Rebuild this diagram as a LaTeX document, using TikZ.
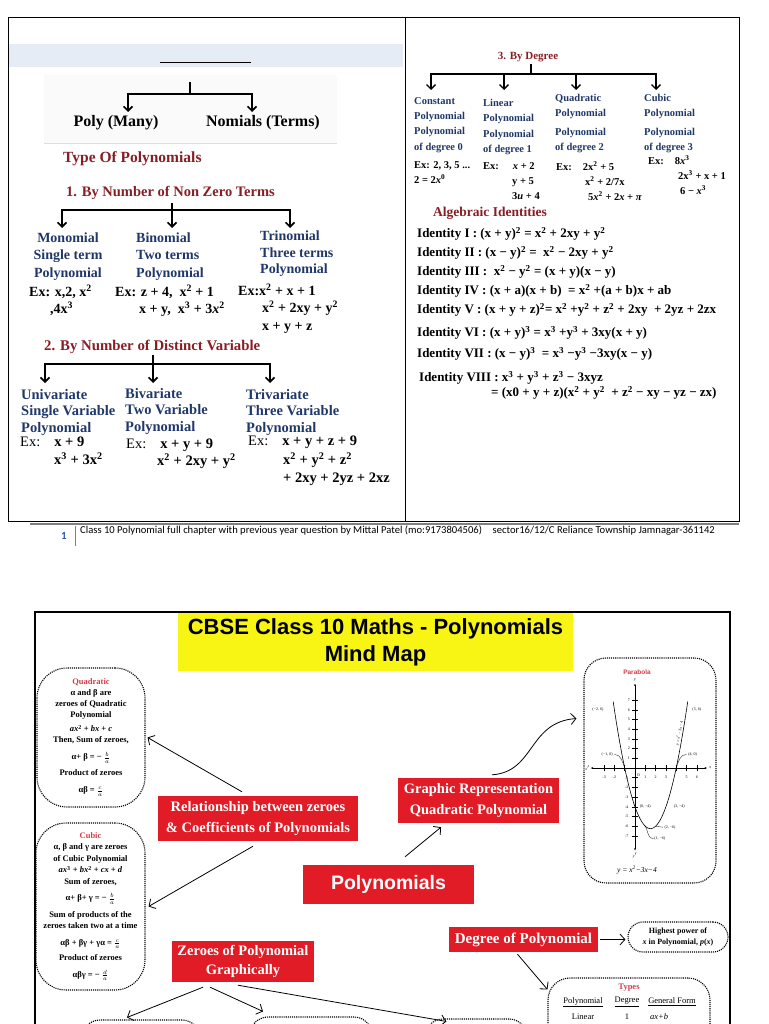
\documentclass[tikz,border=0pt]{standalone}
\usepackage{fontspec}
\setmainfont{Liberation Serif}
\newfontfamily\arialfont{Liberation Sans}
\newfontfamily\calfont{Carlito}
\usetikzlibrary{arrows.meta}

\definecolor{navy}{RGB}{32,55,105}
\definecolor{darkred}{RGB}{135,30,36}
\definecolor{boxred}{RGB}{226,28,38}
\definecolor{titleyellow}{RGB}{248,245,20}
\definecolor{bandblue}{RGB}{230,236,246}
\definecolor{labelred}{RGB}{212,58,74}
\definecolor{pagenum}{RGB}{50,90,170}

\newcommand{\ptwo}{\textsuperscript{2}}
\newcommand{\pthree}{\textsuperscript{3}}
\newcommand{\fs}[2]{\fontsize{#1}{#2}\selectfont}

\begin{document}
\begin{tikzpicture}[x=1pt, y=-1pt,
  every node/.style={inner sep=0pt},
  col/.style={anchor=north west, align=left, text=navy, font=\bfseries\fs{14}{17.5}},
  excol/.style={anchor=north west, align=left, font=\bfseries\fs{14}{17.5}},
  topic/.style={anchor=west, text=darkred, font=\bfseries\fs{14.5}{17}},
  branch/.style={line width=1.6pt},
  down/.style={branch, -{Straight Barb[length=4.5pt,width=9pt]}},
  smallcol/.style={anchor=north west, align=left, text=navy, font=\bfseries\fs{10.5}{15.3}},
  smallex/.style={anchor=north west, align=left, font=\bfseries\fs{10.5}{15}},
  ident/.style={anchor=west, font=\bfseries\fs{13}{15}},
  redbox/.style={fill=boxred, text=white, align=center, font=\bfseries\fs{14.5}{21}},
  dotbox/.style={draw, line width=1.1pt, densely dotted, align=center, font=\bfseries\fs{8.5}{11}},
  link/.style={line width=0.8pt, -{Straight Barb[length=5pt,width=11pt]}}
]
  \path[use as bounding box, clip] (0,0) rectangle (768,1024);

  % page frame and header strip
  \fill[bandblue] (8,44) rectangle (403,67);
  \fill[gray!4] (44,75) rectangle (337,143);
  \draw[line width=0.9pt] (8,17) rectangle (739,521);
  \draw[line width=0.9pt] (405,17) -- (405,521);
  \draw[line width=1pt] (160,63) -- (251,63);
  \draw[gray!25, line width=0.6pt] (44,143) -- (337,143);

  % Poly + Nomials
  \node[font=\bfseries\fs{16}{19}] (poly) at (116,123) {Poly (Many)};
  \node[font=\bfseries\fs{16}{19}] (nomials) at (263,123) {Nomials (Terms)};
  \coordinate (root1) at (190,82);
  \coordinate (fork1) at (190,94);
  \coordinate (polytip) at (128,112);
  \coordinate (nomtip) at (252,112);
  \draw[branch] (root1) -- (fork1);
  \draw[down] (fork1) -| (polytip);
  \draw[down] (fork1) -| (nomtip);

  % 1. by number of non zero terms
  \node[topic, font=\bfseries\fs{15.5}{18}] (types) at (63,159) {Type Of Polynomials};
  \node[topic] (bynz) at (66,193) {1. By Number of Non Zero Terms};
  \coordinate (root2) at (172,203);
  \coordinate (fork2) at (172,210);
  \coordinate (monotip) at (62,228);
  \coordinate (bintip) at (172,228);
  \coordinate (tritip) at (290,228);
  \draw[branch] (root2) -- (fork2);
  \draw[down] (fork2) -| (monotip);
  \draw[down] (fork2) -- (bintip);
  \draw[down] (fork2) -| (tritip);

  \node[col, anchor=north, align=center] (mono) at (68,232.5) {Monomial\\Single term\\Polynomial};
  \node[excol] (monoex) at (29,284.5) {Ex: x,2, x\ptwo\\\hspace{21pt},4x\pthree};
  \node[col] (bin) at (136,232.5) {Binomial\\Two terms\\Polynomial};
  \node[excol] (binex) at (115,284.5) {Ex: z + 4,\ \ x\ptwo{} + 1\\\hspace{24pt}x + y,\ \ x\pthree{} + 3\textit{x}\ptwo};
  \node[col, font=\bfseries\fs{14}{16.5}] (tri) at (260,231) {Trinomial\\Three terms\\Polynomial};
  \node[excol] (triex) at (238,283.5) {Ex:x\ptwo{} + x + 1\\\hspace{24pt}x\ptwo{} + 2xy + y\ptwo\\\hspace{24pt}x + y + z};

  % 2. by number of distinct variable
  \node[topic, font=\bfseries\fs{14.8}{17}] (bydv) at (44,347) {2. By Number of Distinct Variable};
  \coordinate (root3) at (153,355);
  \coordinate (fork3) at (153,364);
  \coordinate (unitip) at (45,383);
  \coordinate (bitip) at (153,383);
  \coordinate (trivtip) at (270,383);
  \draw[branch] (root3) -- (fork3);
  \draw[down] (fork3) -| (unitip);
  \draw[down] (fork3) -- (bitip);
  \draw[down] (fork3) -| (trivtip);

  \node[col, font=\bfseries\fs{14.5}{16.5}] (uni) at (21,389) {Univariate\\Single Variable\\Polynomial};
  \node[excol, font=\bfseries\fs{14.5}{18}] (uniex) at (20,437) {{\mdseries Ex:}\hspace{14pt}x + 9\\\hspace{34pt}x\pthree{} + 3x\ptwo};
  \node[col, font=\bfseries\fs{14.5}{16.5}] (bi) at (125,388) {Bivariate\\Two Variable\\Polynomial};
  \node[excol, font=\bfseries\fs{14.5}{17}] (biex) at (126,439) {{\mdseries Ex:}\hspace{14pt}x + y + 9\\\hspace{31pt}x\ptwo{} + 2xy + y\ptwo};
  \node[col, font=\bfseries\fs{14.5}{16.5}] (triv) at (246,389) {Trivariate\\Three Variable\\Polynomial};
  \node[excol, font=\bfseries\fs{14.5}{18.5}] (trivex) at (248,436) {{\mdseries Ex:}\hspace{14pt}x + y + z + 9\\\hspace{35pt}x\ptwo{} + y\ptwo{} + z\ptwo\\\hspace{35pt}+ 2xy + 2yz + 2xz};

  % 3. by degree
  \node[text=darkred, font=\bfseries\fs{11}{13}] (bydeg) at (528,57) {3. By Degree};
  \coordinate (root4) at (531,64);
  \coordinate (fork4) at (531,74);
  \coordinate (consttip) at (431,90);
  \coordinate (lintip) at (504,90);
  \coordinate (quadtip) at (576,90);
  \coordinate (cubtip) at (656,90);
  \draw[branch, line width=1.3pt] (root4) -- (fork4);
  \draw[down, line width=1.3pt] (fork4) -| (consttip);
  \draw[down, line width=1.3pt] (fork4) -| (lintip);
  \draw[down, line width=1.3pt] (fork4) -| (quadtip);
  \draw[down, line width=1.3pt] (fork4) -| (cubtip);

  \node[smallcol] (const) at (414,97) {Constant\\Polynomial\\Polynomial\\of degree 0};
  \node[smallex] (constex) at (414,161) {Ex: 2, 3, 5 ...\\2 = 2\textit{x}\textsuperscript{0}};
  \node[smallcol] (lin) at (483,99) {Linear\\Polynomial\\Polynomial\\of degree 1};
  \node[smallex] (linex) at (483,162) {Ex:\hspace{14pt}\textit{x} + 2\\\hspace{29pt}y + 5\\\hspace{29pt}3\textit{u} + 4};
  \node[smallcol] (quad) at (555,94) {Quadratic\\Polynomial\\[3pt]Polynomial\\of degree 2};
  \node[smallex] (quadex) at (556,161) {Ex:\hspace{11pt}2x\ptwo{} + 5\\\hspace{29pt}x\ptwo{} + 2/7x\\\hspace{32pt}5\textit{x}\ptwo{} + 2\textit{x} + \textit{π}};
  \node[smallcol] (cub) at (644,94) {Cubic\\Polynomial\\[3pt]Polynomial\\of degree 3};
  \node[smallex] (cubex) at (648,155) {Ex:\hspace{11pt}8\textit{x}\pthree\\\hspace{30pt}2x\pthree{} + x + 1\\\hspace{32pt}6 − \textit{x}\pthree};

  % algebraic identities
  \node[topic, font=\bfseries\fs{13.5}{16}] (algid) at (433,213) {Algebraic Identities};
  \node[ident] (id1) at (417,234) {Identity I : (x + y)\ptwo{} = x\ptwo{} + 2xy + y\ptwo};
  \node[ident] (id2) at (417,253) {Identity II : (x − y)\ptwo{} = \ x\ptwo{} − 2xy + y\ptwo};
  \node[ident] (id3) at (417,272) {Identity III : \ x\ptwo{} − y\ptwo{} = (x + y)(x − y)};
  \node[ident] (id4) at (417,291) {Identity IV : (x + a)(x + b) \ = x\ptwo{} +(a + b)x + ab};
  \node[ident] (id5) at (417,310) {Identity V : (x + y + z)\ptwo{}= x\ptwo{} +y\ptwo{} + z\ptwo{} + 2xy \ + 2yz + 2zx};
  \node[ident] (id6) at (417,333) {Identity VI : (x + y)\pthree{} = x\pthree{} +y\pthree{} + 3xy(x + y)};
  \node[ident] (id7) at (417,354) {Identity VII : (x − y)\pthree{} \ = x\pthree{} −y\pthree{} −3xy(x − y)};
  \node[ident] (id8) at (419,378) {Identity VIII : x\pthree{} + y\pthree{} + z\pthree{} − 3xyz};
  \node[ident] (id8b) at (491,393) {= (x0 + y + z)(x\ptwo{} + y\ptwo{} \ + z\ptwo{} − xy − yz − zx)};

  % footer
  \draw[gray, line width=1.5pt] (30,524) -- (739,524);
  \node[text=pagenum, font=\calfont\bfseries\fs{11}{12}] (pg) at (64,536) {1};
  \draw[gray, line width=0.6pt] (75,526) -- (75,546);
  \node[anchor=west, font=\calfont\fs{10.6}{12}] (foot) at (80,531) {Class 10 Polynomial full chapter with previous year question by Mittal Patel (mo:9173804506)\quad sector16/12/C Reliance Township Jamnagar-361142};

  % mind map
  \draw[line width=1.1pt] (35,612) rectangle (730,1040);
  \node[fill=titleyellow, minimum width=395pt, minimum height=58pt, align=center, font=\arialfont\bfseries\fs{22}{27}] (title) at (375.5,642) {CBSE Class 10 Maths - Polynomials\\Mind Map};

  \node[redbox, minimum width=200pt, minimum height=45pt] (rel) at (258,818.5) {Relationship between zeroes\\\& Coefficients of Polynomials};
  \node[redbox, minimum width=161pt, minimum height=45pt] (graph) at (478.5,800.5) {Graphic Representation\\Quadratic Polynomial};
  \node[redbox, minimum width=171pt, minimum height=39pt, font=\arialfont\bfseries\fs{19.5}{22}] (polymain) at (388.5,884.5) {Polynomials};
  \node[redbox, minimum width=142pt, minimum height=41pt, font=\bfseries\fs{14.5}{18.5}] (zer) at (243,961.5) {Zeroes of Polynomial\\Graphically};
  \node[redbox, minimum width=149pt, minimum height=25pt, font=\bfseries\fs{15}{18}] (deg) at (523.5,939.5) {Degree of Polynomial};

  \node[dotbox, rounded corners=30pt, minimum width=108pt, minimum height=139pt] (quadbox) at (91,737.5) {{\color{labelred}Quadratic}\\α and β are\\zeroes of Quadratic\\Polynomial\\[3pt]\textit{ax}\ptwo{} + \textit{bx} + \textit{c}\\Then, Sum of zeroes,\\[6pt]α+ β = − $\frac{b}{a}$\\[5pt]Product of zeroes\\[6pt]αβ = $\frac{c}{a}$};
  \node[dotbox, rounded corners=30pt, minimum width=109pt, minimum height=167pt, font=\bfseries\fs{8.5}{11.5}] (cubbox) at (90.5,906.5) {{\color{labelred}Cubic}\\α, β and γ are zeroes\\of Cubic Polynomial\\\textit{ax}\pthree{} + \textit{bx}\ptwo{} + \textit{cx} + \textit{d}\\Sum of zeroes,\\[5pt]α+ β+ γ = − $\frac{b}{a}$\\[5pt]Sum of products of the\\zeroes taken two at a time\\[5pt]αβ + βγ + γα = $\frac{c}{a}$\\[4pt]Product of zeroes\\[5pt]αβγ = − $\frac{d}{a}$};
  \node[dotbox, rounded corners=22pt, minimum width=132pt, minimum height=225pt] (parab) at (650,770.5) {};
  \node[dotbox, rounded corners=15pt, minimum width=100pt, minimum height=30pt, font=\bfseries\fs{8}{11.5}] (high) at (678,937) {Highest power of\\\textit{x} in Polynomial, \textit{p}(\textit{x})};
  \node[dotbox, rounded corners=22pt, minimum width=162pt, minimum height=70pt] (typesbox) at (629,1013) {};
  \node[dotbox, rounded corners=18pt, minimum width=118pt, minimum height=50pt] (g1) at (141,1045) {};
  \node[dotbox, rounded corners=18pt, minimum width=122pt, minimum height=50pt] (g2) at (311,1042) {};
  \node[dotbox, rounded corners=18pt, minimum width=102pt, minimum height=50pt] (g3) at (476,1044) {};

  % types table
  \node[text=labelred, font=\bfseries\fs{8.5}{10}] (typestitle) at (629,988) {Types};
  \node[font=\fs{8.5}{10}] (thpoly) at (583,1002) {\underline{Polynomial}};
  \node[font=\fs{8.5}{10}] (thdeg) at (627,1002) {\underline{Degree}};
  \node[font=\fs{8.5}{10}] (thform) at (672,1002) {\underline{General Form}};
  \node[font=\fs{8.5}{10}] (rlin) at (583,1017) {Linear};
  \node[font=\fs{8.5}{10}] (rone) at (627,1017) {1};
  \node[font=\fs{8.5}{10}] (rax) at (659,1017) {\textit{ax+b}};

  % parabola
  \node[text=labelred, font=\arialfont\bfseries\fs{6.5}{8}] (parabtitle) at (637,672) {Parabola};
  \node[font=\itshape\fs{7.5}{9}] (parabeq) at (637,870) {y = x\textsuperscript{2}−3x−4};
  \begin{scope}[shift={(635,768)}, x=10.3pt, y=9.7pt, font=\fs{4}{5}]
    \draw[line width=0.5pt, {Stealth[length=2.5pt]}-{Stealth[length=2.5pt]}] (-4.3,0) -- (7,0);
    \draw[line width=0.5pt, {Stealth[length=2.5pt]}-{Stealth[length=2.5pt]}] (0,-8.5) -- (0,8.7);
    \foreach \t in {-3,...,6} \draw[line width=0.5pt] (\t,0.3) -- (\t,-0.3);
    \foreach \t in {-7,...,7} \draw[line width=0.5pt] (-0.3,\t) -- (0.3,\t);
    \foreach \t in {-3,-2,1,2,3,5,6} \node at (\t,-0.9) {\t};
    \foreach \t in {1,...,7} \node at (-0.6,\t) {\t};
    \foreach \t in {-7,...,-1} \node at (-0.8,\t) {\t};
    \node at (0.35,-0.7) {O};
    \node at (-4.6,0) {\textit{x}$'$};
    \node at (7.3,0) {\textit{x}};
    \node at (0,9.1) {\textit{y}};
    \node at (0,-9.0) {\textit{y}$'$};
    \draw[line width=0.6pt, domain=-2.12:5.12, samples=60] plot (\x,{\x*\x-3*\x-4});
    \node at (-3.6,6.0) {(−2, 6)};
    \node at (6.0,6.0) {(5, 6)};
    \node at (-2.7,1.4) {(−1, 0)};
    \node at (5.6,1.4) {(4, 0)};
    \node at (1.0,-4.0) {(0, −4)};
    \node at (4.3,-4.0) {(3, −4)};
    \node at (3.4,-6.1) {(2, −6)};
    \node at (2.4,-7.3) {(1, −6)};
    \draw[line width=0.3pt] (-2.0,1.4) to[out=0,in=110] (-1,0);
    \draw[line width=0.3pt] (5.0,1.4) to[out=180,in=70] (4,0);
    \draw[line width=0.3pt] (2.7,-6.1) to[out=180,in=0] (2,-6);
    \draw[line width=0.3pt] (1.8,-7.3) to[out=180,in=-60] (1,-6);
    \node[rotate=79] at (4.3,3.6) {\textit{y} = \textit{x}\textsuperscript{2} − 3\textit{x} − 4};
  \end{scope}

  % connectors
  \draw[link] ([xshift=-16pt,yshift=4pt]rel.north) -- ([xshift=2pt]quadbox.east);
  \draw[link] ([xshift=-5pt,yshift=-5pt]rel.south) -- ([xshift=3pt]cubbox.east);
  \draw[link] ([xshift=16.5pt,yshift=8pt]polymain.north) -- ([xshift=-37.5pt,yshift=-4pt]graph.south);
  \draw[link] ([xshift=13.5pt,yshift=3pt]graph.north) .. controls (535,772) and (528,722) .. ([xshift=-7pt]parab.142);
  \draw[link] ([xshift=-40pt,yshift=-5pt]zer.south) -- ([xshift=-14pt,yshift=2pt]g1.north);
  \draw[link] ([xshift=-33pt,yshift=-5pt]zer.south) -- ([xshift=-48pt,yshift=5pt]g2.north);
  \draw[link] ([xshift=-5pt,yshift=-3pt]zer.south) -- ([xshift=22pt,yshift=-3pt]g3.north west);
  \draw[link, shorten <=2pt, shorten >=2pt] (deg.east) -- (deg.east -| high.west);
  \draw[link] ([xshift=-6pt,yshift=-2pt]deg.south) -- ([yshift=-12pt]typesbox.north west);
\end{tikzpicture}
\end{document}
